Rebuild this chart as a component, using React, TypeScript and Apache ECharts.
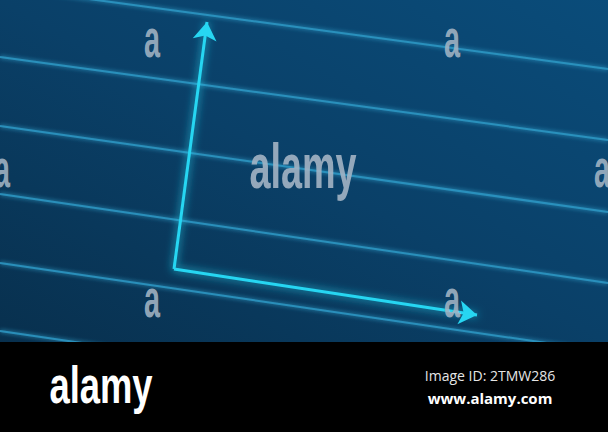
import React, { useEffect, useRef } from 'react';
import * as echarts from 'echarts';

// picture area is 608 x 342 px, values are read straight off the picture
const gridLeftY = [-13, 57, 126, 194, 263, 331];
const gridRightY = [69, 140, 212, 283, 352, 420];

const axisOrigin = [174, 269];
const yAxisTip = [207, 22];
const xAxisTip = [477, 315];

const markPositions = [
  [152, 38],
  [452, 38],
  [2, 168],
  [602, 168],
  [152, 298],
  [452, 298],
];

const App: React.FC = () => {
  const chartRef = useRef<HTMLDivElement>(null);

  useEffect(() => {
    if (!chartRef.current) return;
    document.body.style.margin = '0';
    const myChart = echarts.init(chartRef.current, null, { renderer: 'svg' });

    const gridLines = gridLeftY.map((l, i) => ({
      coords: [
        [0, l],
        [608, gridRightY[i]],
      ],
    }));

    const watermarkFont = '"Liberation Sans Narrow", "Liberation Sans", sans-serif';

    const option = {
      animation: false,
      grid: { left: 0, right: 0, top: 0, height: 342 },
      xAxis: { type: 'value', min: 0, max: 608, show: false },
      yAxis: { type: 'value', min: 0, max: 342, inverse: true, show: false },
      series: [
        {
          name: 'grid',
          type: 'lines',
          coordinateSystem: 'cartesian2d',
          silent: true,
          z: 2,
          lineStyle: {
            color: '#2e98c4',
            width: 2,
            opacity: 0.85,
            shadowColor: '#39b4e0',
            shadowBlur: 4,
          },
          data: gridLines,
        },
        {
          name: 'axes',
          type: 'lines',
          coordinateSystem: 'cartesian2d',
          silent: true,
          z: 3,
          symbol: ['none', 'arrow'],
          symbolSize: [15, 18],
          lineStyle: {
            color: '#27d6f2',
            width: 3,
            opacity: 1,
            shadowColor: '#27d6f2',
            shadowBlur: 8,
          },
          data: [
            { coords: [axisOrigin, yAxisTip] },
            { coords: [axisOrigin, xAxisTip] },
          ],
        },
      ],
      graphic: [
        {
          type: 'rect',
          z: -10,
          silent: true,
          shape: { x: 0, y: 0, width: 608, height: 342 },
          style: {
            fill: new echarts.graphic.LinearGradient(1, 0, 0, 1, [
              { offset: 0, color: '#0a4c7a' },
              { offset: 0.5, color: '#0a4068' },
              { offset: 1, color: '#08304e' },
            ]),
          },
        },
        ...markPositions.map(([x, y]) => ({
          type: 'text',
          z: 50,
          silent: true,
          x,
          y,
          scaleX: 0.6,
          scaleY: 1.12,
          style: {
            text: 'a',
            font: `bold 48px ${watermarkFont}`,
            fill: '#a3b4c4',
            opacity: 0.9,
            align: 'center',
            verticalAlign: 'middle',
          },
        })),
        {
          type: 'text',
          z: 50,
          silent: true,
          x: 303,
          y: 166,
          scaleX: 0.63,
          scaleY: 1.05,
          style: {
            text: 'alamy',
            font: `bold 60px ${watermarkFont}`,
            fill: '#a3b4c4',
            opacity: 0.9,
            align: 'center',
            verticalAlign: 'middle',
          },
        },
        {
          type: 'rect',
          z: 100,
          silent: true,
          shape: { x: 0, y: 342, width: 608, height: 90 },
          style: { fill: '#000000' },
        },
        {
          type: 'text',
          z: 101,
          silent: true,
          x: 101,
          y: 385,
          scaleX: 0.7,
          style: {
            text: 'alamy',
            font: `bold 52px ${watermarkFont}`,
            fill: '#ffffff',
            align: 'center',
            verticalAlign: 'middle',
          },
        },
        {
          type: 'text',
          z: 101,
          silent: true,
          x: 490,
          y: 375,
          style: {
            text: 'Image ID: 2TMW286',
            font: '14px "Open Sans", sans-serif',
            fill: '#e6e6e6',
            align: 'center',
            verticalAlign: 'middle',
          },
        },
        {
          type: 'text',
          z: 101,
          silent: true,
          x: 490,
          y: 398,
          style: {
            text: 'www.alamy.com',
            font: 'bold 15px "Open Sans", sans-serif',
            fill: '#ffffff',
            align: 'center',
            verticalAlign: 'middle',
          },
        },
      ],
    };

    myChart.setOption(option);
    return () => {
      myChart.dispose();
    };
  }, []);

  return <div ref={chartRef} style={{ width: 608, height: 432 }} />;
};

export default App;
